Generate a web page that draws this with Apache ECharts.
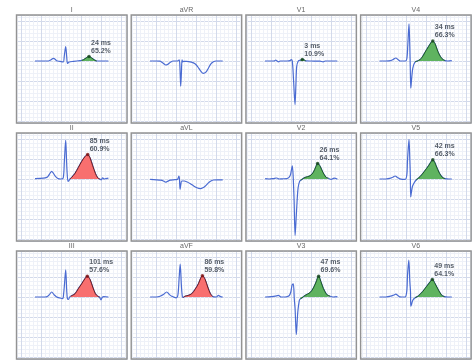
<!DOCTYPE html>
<html><head><meta charset="utf-8">
<script src="https://cdn.jsdelivr.net/npm/echarts@6/dist/echarts.min.js"></script>
<style>html,body{margin:0;padding:0;background:#fff}#c{width:474px;height:362px}</style>
</head><body><div id="c"></div>
<script>
// Lead order: row by row, left to right
const leadNames = ['I', 'aVR', 'V1', 'V4', 'II', 'aVL', 'V2', 'V5', 'III', 'aVF', 'V3', 'V6'];

// Median beats: [time ms, amplitude mV]
const waveI = [[-267,0],[-200,0],[-133,0],[-110,0.025],[-83,0.065],[-63,0.04],[-50,0.005],[-17,-0.01],[15,-0.025],[27,0.15],[40,0.36],[50,0.11],[58,-0.06],[75,-0.025],[117,-0.01],[183,0.01],[200,0.015],[217,0.03],[250,0.085],[273,0.11],[300,0.075],[327,0.025],[350,0],[400,0],[467,0]];
const waveAVR = [[-264,0],[-200,0],[-164,-0.005],[-135,-0.05],[-107,-0.1],[-85,-0.08],[-60,-0.03],[-31,0],[10,0],[28,0.03],[36,-0.2],[43,-0.63],[50,-0.3],[56,0.03],[62,-0.02],[72,-0.01],[100,-0.01],[150,-0.03],[186,-0.07],[215,-0.15],[240,-0.24],[269,-0.31],[295,-0.28],[320,-0.18],[345,-0.07],[370,-0.02],[396,0],[463,0]];
const waveV1 = [[-261,0],[-200,0],[-165,0.005],[-154,0.025],[-140,0],[-127,-0.02],[-110,0],[-40,0],[-10,0.01],[0,0.035],[12,0],[25,-0.5],[39,-1.09],[48,-0.6],[56,-0.14],[72,0],[95,0.02],[112,0.04],[146,0.005],[200,0],[290,-0.005],[320,-0.02],[340,0],[400,0],[462,0]];
const waveV4 = [[-263,0],[-200,0],[-150,0.01],[-125,0.04],[-100,0.075],[-75,0.03],[-57,0],[-7,0],[10,0.05],[20,0.4],[32,0.93],[40,0.35],[45,-0.2],[50,-0.68],[58,-0.45],[70,-0.18],[93,-0.02],[127,0.01],[160,0.08],[193,0.22],[227,0.36],[250,0.45],[270,0.5],[290,0.44],[303,0.36],[320,0.24],[337,0.15],[355,0.08],[370,0.04],[393,0.01],[420,0],[460,0.01]];
const waveII = [[-267,0.01],[-183,0.02],[-150,0.04],[-133,0.08],[-115,0.15],[-100,0.19],[-85,0.15],[-67,0.08],[-43,0.02],[-10,0],[15,0.02],[27,0.46],[40,0.97],[48,0.5],[53,0.21],[63,-0.06],[73,-0.04],[83,0],[100,0.04],[133,0.14],[167,0.29],[200,0.44],[233,0.56],[260,0.61],[283,0.53],[310,0.33],[337,0.14],[360,0.03],[380,0],[395,-0.02],[410,0.03],[425,0],[467,0.02]];
const waveAVL = [[-263,-0.01],[-200,-0.02],[-160,-0.03],[-130,-0.05],[-107,-0.08],[-90,-0.06],[-60,-0.03],[-30,-0.02],[10,-0.01],[25,0.07],[30,0.02],[37,-0.26],[45,-0.12],[53,-0.05],[80,-0.05],[103,-0.07],[140,-0.12],[170,-0.17],[205,-0.22],[240,-0.24],[265,-0.22],[287,-0.18],[315,-0.11],[337,-0.06],[370,-0.025],[410,-0.02],[463,-0.02]];
const waveV2 = [[-260,0.01],[-220,0],[-180,0.01],[-143,0.025],[-120,0],[-90,0.005],[-40,0.01],[-10,0.08],[5,0.25],[12,0.33],[20,0.1],[30,-0.54],[40,-1.41],[50,-1.0],[60,-0.55],[70,-0.22],[85,-0.06],[97,-0.03],[140,0.04],[190,0.08],[223,0.17],[250,0.32],[265,0.39],[290,0.32],[317,0.17],[350,0.04],[373,0.02],[400,-0.01],[430,0.02],[463,0]];
const waveV5 = [[-263,0],[-200,0],[-150,0.02],[-125,0.05],[-107,0.075],[-85,0.04],[-60,0.005],[-7,-0.01],[10,0.1],[17,0.46],[32,0.99],[40,0.5],[45,0.1],[49,-0.45],[55,-0.35],[65,-0.2],[77,-0.125],[103,-0.025],[143,0.06],[183,0.18],[227,0.33],[250,0.42],[270,0.48],[290,0.41],[303,0.33],[337,0.14],[370,0.03],[393,0.01],[430,0],[460,0]];
const waveIII = [[-267,0],[-167,0],[-140,0.02],[-123,0.06],[-100,0.125],[-77,0.06],[-50,0],[-17,-0.025],[10,-0.04],[20,0.1],[27,0.29],[40,0.68],[50,0.17],[57,-0.04],[67,-0.06],[80,0],[90,0.02],[133,0.08],[167,0.21],[200,0.33],[233,0.46],[256,0.52],[283,0.44],[310,0.25],[337,0.08],[360,0.02],[377,0],[393,-0.07],[405,-0.01],[420,0.01],[467,0]];
const waveAVF = [[-263,0],[-200,0],[-163,0.02],[-130,0.06],[-97,0.125],[-70,0.06],[-47,0.02],[-3,-0.02],[15,0.05],[27,0.46],[38,0.82],[50,0.29],[60,0],[70,-0.01],[87,0.02],[120,0.04],[153,0.08],[187,0.19],[220,0.33],[243,0.47],[260,0.53],[287,0.44],[313,0.25],[340,0.08],[363,0.01],[400,0],[420,0.04],[440,0.01],[463,0]];
const waveV3 = [[-260,0],[-200,0.01],[-160,0.02],[-127,0.04],[-100,0],[-60,0],[-20,0.03],[-3,0.125],[10,0.3],[22,0.33],[32,-0.05],[40,-0.3],[52,-0.94],[60,-0.65],[67,-0.375],[83,-0.08],[95,-0.04],[107,-0.025],[140,0.04],[190,0.11],[223,0.225],[250,0.375],[275,0.52],[297,0.39],[323,0.21],[357,0.06],[390,0.02],[420,0],[463,0.01]];
const waveV6 = [[-263,0],[-200,0],[-150,0.02],[-120,0.05],[-100,0.07],[-80,0.04],[-60,0.005],[-7,0],[10,0.15],[17,0.54],[30,0.92],[40,0.4],[47,0.125],[50,-0.23],[58,-0.18],[70,-0.08],[93,-0.02],[127,0.03],[170,0.14],[210,0.27],[243,0.375],[265,0.44],[293,0.33],[327,0.17],[360,0.04],[387,0.01],[420,0],[460,0]];

const waves = [waveI, waveAVR, waveV1, waveV4, waveII, waveAVL, waveV2, waveV5, waveIII, waveAVF, waveV3, waveV6];

// Shaded T-wave window per lead (ms), null = none
const fillStart = [200, null, 95, 93, 83, null, 97, 103, 90, 70, 95, 93];
const fillEnd   = [350, null, 146, 393, 380, null, 373, 393, 377, 363, 390, 387];
const fillRed   = [false, false, false, false, true, false, false, false, true, true, false, false];
// Annotations
const qtMs  = ['24', null, '3', '34', '85', null, '26', '42', '101', '86', '47', '49'];
const qtPct = ['65.2%', null, '10.9%', '66.3%', '60.9%', null, '64.1%', '66.3%', '57.6%', '59.8%', '69.6%', '64.1%'];

// Axis ranges
const xRange = [-452, 653];
const yRange = [-1.55, 1.15];

// Layout
const colLeft = [16.5, 131.2, 245.9, 360.6];
const rowTop = [15, 133, 251];
const panelW = 110.5, panelH = 108;

const waveColor = '#4a6bd2';
const majorColor = '#d3daeb';
const minorColor = '#eef1f8';

const grids = [], xAxes = [], yAxes = [], series = [], graphics = [];
leadNames.forEach((name, i) => {
  const r = Math.floor(i / 4), c = i % 4;
  const left = colLeft[c], top = rowTop[r];
  grids.push({left: left, top: top, width: panelW, height: panelH, show: false, containLabel: false});
  const common = {
    gridIndex: i, type: 'value', scale: false,
    axisLine: {show: false}, axisTick: {show: false}, axisLabel: {show: false},
    splitLine: {show: true, lineStyle: {color: majorColor, width: 1}},
    minorTick: {show: false, splitNumber: 5},
    minorSplitLine: {show: true, lineStyle: {color: minorColor, width: 1}}
  };
  xAxes.push(Object.assign({}, common, {min: xRange[0], max: xRange[1]}));
  yAxes.push(Object.assign({}, common, {min: yRange[0], max: yRange[1]}));

  series.push({
    type: 'line', xAxisIndex: i, yAxisIndex: i, data: waves[i],
    showSymbol: false, smooth: 0.3, lineStyle: {color: waveColor, width: 1.2}, z: 2, silent: true
  });

  if (fillStart[i] !== null) {
    const seg = waves[i].filter(p => p[0] >= fillStart[i] && p[0] <= fillEnd[i]);
    const red = fillRed[i];
    series.push({
      type: 'line', xAxisIndex: i, yAxisIndex: i, data: seg,
      showSymbol: false, smooth: 0.3,
      lineStyle: {color: red ? '#6e1c1c' : '#1f5a22', width: 1},
      areaStyle: {color: red ? '#f86f6f' : '#5fb360', opacity: 1, origin: 0},
      z: 3, silent: true
    });
    let peak = seg[0];
    seg.forEach(p => { if (p[1] > peak[1]) peak = p; });
    series.push({
      type: 'scatter', xAxisIndex: i, yAxisIndex: i, data: [peak],
      symbolSize: 3.5, itemStyle: {color: red ? '#7a0f0f' : '#14451a'}, z: 4, silent: true,
      label: {
        show: true, position: 'top', distance: 0, align: 'left', offset: [2, 0],
        formatter: qtMs[i] + ' ms\n' + qtPct[i],
        fontFamily: 'Liberation Sans, Arial, sans-serif', fontSize: 7, fontWeight: 'bold',
        lineHeight: 8, color: '#2b3442'
      }
    });
  }

  graphics.push({
    type: 'rect', z: 100, silent: true,
    shape: {x: left, y: top, width: panelW, height: panelH},
    style: {fill: 'none', stroke: '#939393', lineWidth: 1.4}
  });
  graphics.push({
    type: 'text', z: 100, silent: true,
    style: {text: name, x: left + panelW / 2, y: top - 4.5, align: 'center', verticalAlign: 'middle',
      font: '7px "Liberation Sans", Arial, sans-serif', fill: '#666'}
  });
});

const chart = echarts.init(document.getElementById('c'), null, {renderer: 'canvas'});
chart.setOption({
  animation: false,
  backgroundColor: '#fff',
  grid: grids, xAxis: xAxes, yAxis: yAxes, series: series, graphic: graphics
});
</script></body></html>
